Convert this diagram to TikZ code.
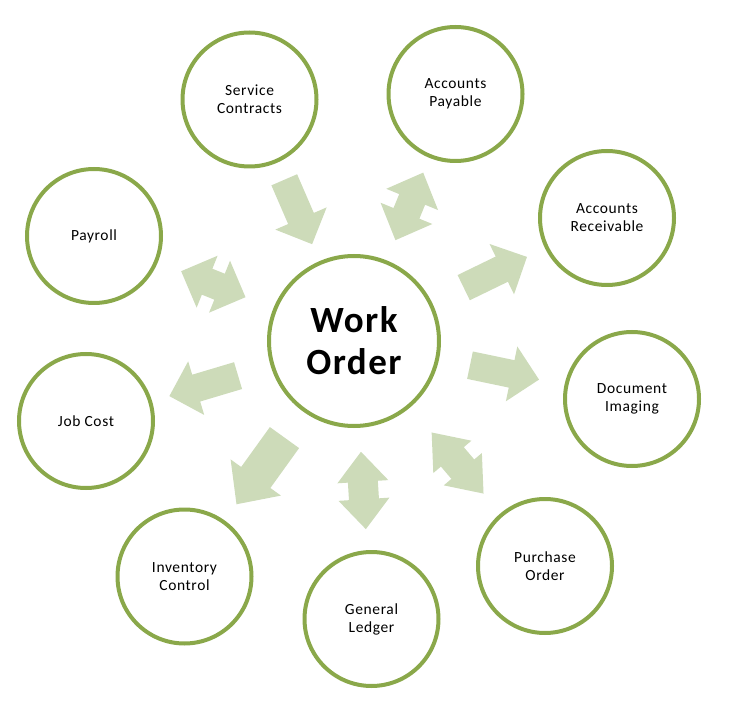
\documentclass[tikz,border=0pt]{standalone}
\usepackage{fontspec}
\setmainfont{Carlito}[LetterSpace=4]
\usepackage{xcolor}
\usetikzlibrary{calc}

\definecolor{ringgreen}{RGB}{138,168,74}
\definecolor{flowgreen}{RGB}{205,219,185}

% one-way block arrow: from, to, gap at from, gap at to, half body, half head, head length
\newcommand{\flowone}[7]{%
  \coordinate (ft) at ($(#1.center)!#3!(#2.center)$);
  \coordinate (fp) at ($(#2.center)!#4!(#1.center)$);
  \coordinate (fh) at ($(fp)!#7!(ft)$);
  \fill[flow] ($(ft)!#5!90:(fp)$) -- ($(fh)!#5!90:(fp)$) -- ($(fh)!#6!90:(fp)$)
    -- (fp) -- ($(fh)!#6!-90:(fp)$) -- ($(fh)!#5!-90:(fp)$) -- ($(ft)!#5!-90:(fp)$)
    -- cycle;}
% two-way block arrow, same arguments
\newcommand{\flowtwo}[7]{%
  \coordinate (fa) at ($(#1.center)!#3!(#2.center)$);
  \coordinate (fb) at ($(#2.center)!#4!(#1.center)$);
  \coordinate (fha) at ($(fa)!#7!(fb)$);
  \coordinate (fhb) at ($(fb)!#7!(fa)$);
  \fill[flow] (fa) -- ($(fha)!#6!90:(fb)$) -- ($(fha)!#5!90:(fb)$)
    -- ($(fhb)!#5!90:(fb)$) -- ($(fhb)!#6!90:(fb)$) -- (fb)
    -- ($(fhb)!#6!-90:(fb)$) -- ($(fhb)!#5!-90:(fb)$)
    -- ($(fha)!#5!-90:(fb)$) -- ($(fha)!#6!-90:(fb)$) -- cycle;}

\begin{document}
\begin{tikzpicture}[
    x=1pt, y=-1pt,
    hub/.style={circle, draw=ringgreen, line width=4pt, minimum size=170pt,
                inner sep=0pt, align=center,
                font=\fontsize{37}{42}\selectfont\bfseries},
    spoke/.style={circle, draw=ringgreen, line width=4pt, minimum size=134pt,
                  inner sep=0pt, align=center, font=\fontsize{15.5}{18}\selectfont},
    flow/.style={fill=flowgreen}
  ]
  \useasboundingbox (0,0) rectangle (731,708);

  \node[hub]   (wo)  at (354,341)     {Work\\Order};
  \node[spoke] (sc)  at (249.5,99.5)  {Service\\Contracts};
  \node[spoke] (ap)  at (455.5,94)    {Accounts\\Payable};
  \node[spoke] (ar)  at (607,218)     {Accounts\\Receivable};
  \node[spoke] (pay) at (94,236)      {Payroll};
  \node[spoke] (di)  at (632,399)     {Document\\Imaging};
  \node[spoke] (jc)  at (86,421)      {Job Cost};
  \node[spoke] (po)  at (545,566)     {Purchase\\Order};
  \node[spoke] (ic)  at (184.5,576.5) {Inventory\\Control};
  \node[spoke] (gl)  at (371.5,619)   {General\\Ledger};

  % block arrows between the hub and the modules
  \flowone{sc}{wo}{87.5pt}{105.5pt}{14pt}{28pt}{28pt}
  \flowtwo{wo}{ap}{109pt}{85pt}{14pt}{28pt}{29pt}
  \flowtwo{wo}{pay}{117pt}{94pt}{14pt}{28pt}{28pt}
  \flowone{wo}{ar}{122pt}{89pt}{14pt}{28pt}{28pt}
  \flowone{wo}{di}{118.5pt}{95pt}{14pt}{28pt}{28pt}
  \flowone{wo}{jc}{121pt}{87pt}{14pt}{28pt}{28pt}
  \flowone{wo}{ic}{119pt}{89pt}{18pt}{31pt}{33pt}
  \flowtwo{wo}{gl}{111pt}{90pt}{15pt}{25.5pt}{30pt}
  \flowtwo{wo}{po}{120pt}{95pt}{15pt}{25pt}{32pt}
\end{tikzpicture}
\end{document}
